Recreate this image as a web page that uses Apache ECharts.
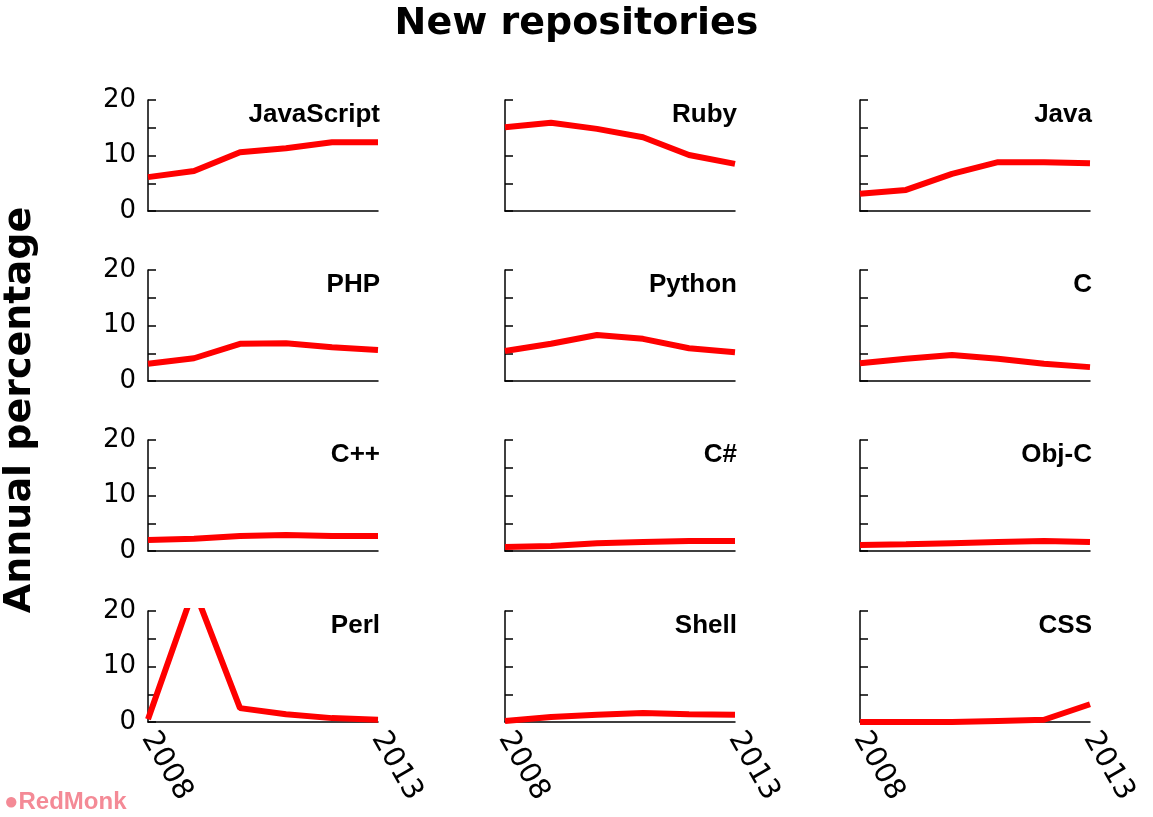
<!DOCTYPE html>
<html><head><meta charset="utf-8">
<script src="https://cdn.jsdelivr.net/npm/echarts@6/dist/echarts.min.js"></script>
<style>html,body{margin:0;padding:0;background:#fff}#c{width:1153px;height:817px}</style>
</head><body><div id="c"></div>
<script>
const years = [2008, 2009, 2010, 2011, 2012, 2013];
const languages = ["JavaScript","Ruby","Java","PHP","Python","C","C++","C#","Obj-C","Perl","Shell","CSS"];
const JavaScript = [6.1, 7.2, 10.6, 11.3, 12.4, 12.4];
const Ruby = [15.1, 15.9, 14.8, 13.3, 10.1, 8.5];
const Java = [3.1, 3.8, 6.7, 8.8, 8.8, 8.6];
const PHP = [3.1, 4.1, 6.7, 6.8, 6.1, 5.6];
const Python = [5.4, 6.7, 8.3, 7.6, 5.9, 5.2];
const C = [3.2, 4.0, 4.7, 4.0, 3.1, 2.5];
const Cpp = [2.0, 2.2, 2.7, 2.9, 2.7, 2.7];
const CSharp = [0.7, 0.9, 1.4, 1.6, 1.8, 1.8];
const ObjC = [1.1, 1.2, 1.4, 1.6, 1.8, 1.6];
const Perl = [0.5, 24, 2.5, 1.4, 0.7, 0.4];
const Shell = [0.2, 0.9, 1.3, 1.6, 1.4, 1.3];
const CSS = [0, 0, 0, 0.2, 0.4, 3.2];
const seriesData = [JavaScript, Ruby, Java, PHP, Python, C, Cpp, CSharp, ObjC, Perl, Shell, CSS];
const yTickLabels = [0, 10, 20];

const colLeft = [148, 505, 860], rowTop = [100, 270, 440, 611], W = 230, H = 111;
const grids = [], xAxes = [], yAxes = [], series = [], graphics = [];
const font = 'DejaVu Sans';
languages.forEach((name, i) => {
  const r = Math.floor(i / 3), c = i % 3;
  grids.push({left: colLeft[c], top: rowTop[r], width: W, height: H});
  xAxes.push({gridIndex: i, type: 'value', min: 2008, max: 2013, interval: 5,
    axisLine: {show: true, lineStyle: {color: '#000', width: 1.5}},
    axisTick: {show: false}, splitLine: {show: false},
    axisLabel: {show: r === 3, rotate: -60, fontSize: 29, color: '#000', fontFamily: font, margin: 12, align: 'left',
      formatter: v => String(v)}});
  yAxes.push({gridIndex: i, type: 'value', min: 0, max: 20, interval: 5,
    axisLine: {show: true, lineStyle: {color: '#000', width: 1.5}},
    axisTick: {show: true, inside: true, length: 8, lineStyle: {color: '#000', width: 1.5}},
    splitLine: {show: false},
    axisLabel: {show: c === 0, fontSize: 26, color: '#000', fontFamily: font, margin: 12,
      formatter: v => yTickLabels.includes(v) ? String(v) : ''}});
  series.push({type: 'line', xAxisIndex: i, yAxisIndex: i, symbol: 'none', clip: true,
    data: years.map((y, k) => [y, seriesData[i][k]]),
    lineStyle: {color: '#ff0000', width: 6}});
  graphics.push({type: 'text', x: colLeft[c] + W + 2, y: rowTop[r] + 15,
    style: {text: name, font: 'bold 26px "Liberation Sans", Arial', fill: '#000', align: 'right', verticalAlign: 'middle'}});
});
graphics.push({type: 'text', x: 20, y: 410, rotation: Math.PI / 2,
  style: {text: 'Annual percentage', font: 'bold 38px "DejaVu Sans"', fill: '#000', align: 'center', verticalAlign: 'middle'}});
graphics.push({type: 'text', x: 4, y: 790,
  style: {text: '\u25CFRedMonk', font: 'bold 24px "Liberation Sans"', fill: '#f48a96'}});
const chart = echarts.init(document.getElementById('c'));
chart.setOption({
  animation: false,
  title: {text: 'New repositories', left: 'center', top: 0,
    textStyle: {fontSize: 38, fontWeight: 'bold', fontFamily: font, color: '#000'}},
  grid: grids, xAxis: xAxes, yAxis: yAxes, series, graphic: graphics
});
</script></body></html>
